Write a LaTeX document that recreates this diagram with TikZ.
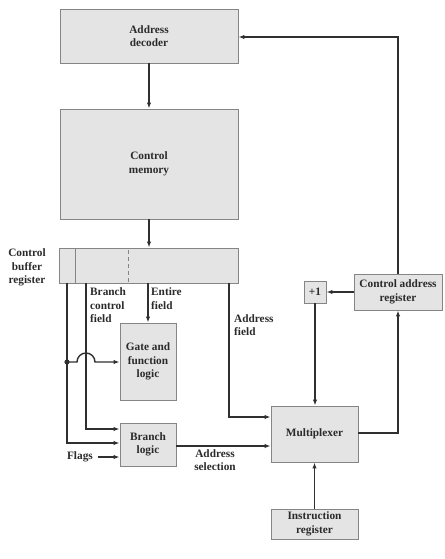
\documentclass[tikz,border=0pt]{standalone}
\usepackage{fontspec}
\setmainfont{Liberation Serif}
\usetikzlibrary{arrows.meta}
\definecolor{boxfill}{HTML}{E4E4E4}
\definecolor{boxline}{HTML}{858585}
\definecolor{wirec}{HTML}{303030}
\definecolor{txt}{HTML}{2A2A2A}
\begin{document}
\begin{tikzpicture}[x=1pt,y=-1pt,
  lbl/.style={font=\bfseries\fontsize{11.3}{13.5}\selectfont, text=txt, inner sep=0pt},
  box/.style={lbl, draw=boxline, fill=boxfill, line width=0.9pt, align=center},
  wire/.style={draw=wirec, line width=1.4pt},
  arr/.style={wire, -{Latex[length=6pt,width=4.5pt]}}
]
\useasboundingbox (0,0) rectangle (444,559);

% boxes
\node[box, minimum width=178pt, minimum height=54pt] (ad) at (149,36) {Address\\decoder};
\node[box, minimum width=178pt, minimum height=110pt] (cm) at (149,164) {Control\\memory};
\node[box, minimum width=179pt, minimum height=35pt] (cbr) at (148.5,265.5) {};
\node[box, minimum width=56pt, minimum height=77pt] (gate) at (148,361.5) {Gate and\\function\\logic};
\node[box, minimum width=56pt, minimum height=43pt] (bl) at (148,444.5) {Branch\\logic};
\node[box, minimum width=87pt, minimum height=56pt] (mux) at (314.5,434) {Multiplexer};
\node[box, minimum width=22pt, minimum height=22pt] (p1) at (315,292) {+1};
\node[box, minimum width=88pt, minimum height=36pt] (car) at (398,292) {Control address\\register};
\node[box, minimum width=87pt, minimum height=30pt] (ir) at (314.5,524) {Instruction\\register};

% buffer register internal divisions
\draw[draw=boxline, line width=0.9pt] (75,248) -- (75,283);
\draw[draw=boxline, line width=0.9pt, dashed, dash pattern=on 4pt off 3pt] (128,250) -- (128,283);

% labels
\node[lbl, align=center] (lcbr) at (27,267.5) {Control\\buffer\\register};
\node[lbl, align=left, anchor=west] (lbcf) at (90,305.5) {Branch\\control\\field};
\node[lbl, align=left, anchor=west] (lef) at (151,298.5) {Entire\\field};
\node[lbl, align=left, anchor=west] (laf) at (234,325) {Address\\field};
\node[lbl, align=center] (las) at (215,460) {Address\\selection};
\node[lbl, anchor=east] (lfl) at (93,457) {Flags};

% coordinates
\coordinate (b1) at (67,283);
\coordinate (b2) at (86,283);
\coordinate (b4) at (229,283);
\coordinate (dot) at (67,362);

% connectors
\draw[arr] (ad.south) -- (cm.north);
\draw[arr] (cm.south) -- (cbr.north -| cm.south);
\draw[arr] (cbr.south -| gate.north) -- (gate.north);
\draw[arr] (b1) -- (67,443) -- (bl.west |- 0,443);
\draw[arr] (b2) -- (86,429) -- (bl.west |- 0,429);
\draw[arr] (dot) -- (77,362) arc[start angle=180, end angle=0, radius=9pt] -- (gate.west |- dot);
\fill[wirec] (dot) circle (2.6pt);
\draw[arr] (lfl.east) ++(5pt,0) -- (bl.west |- lfl.east);
\draw[arr] (b4) -- (229,417) -- (mux.west |- 0,417);
\draw[arr] (bl.east |- 0,446) -- (mux.west |- 0,446);
\draw[arr] (car.west) -- (p1.east);
\draw[arr] (p1.south) -- (p1.south |- mux.north);
\draw[arr] (mux.east |- 0,433) -- (398,433) -- (car.south);
\draw[arr] (car.north) -- (398,37) -- (ad.east |- 0,37);
\draw[arr] (ir.north) -- (mux.south);
\end{tikzpicture}
\end{document}
